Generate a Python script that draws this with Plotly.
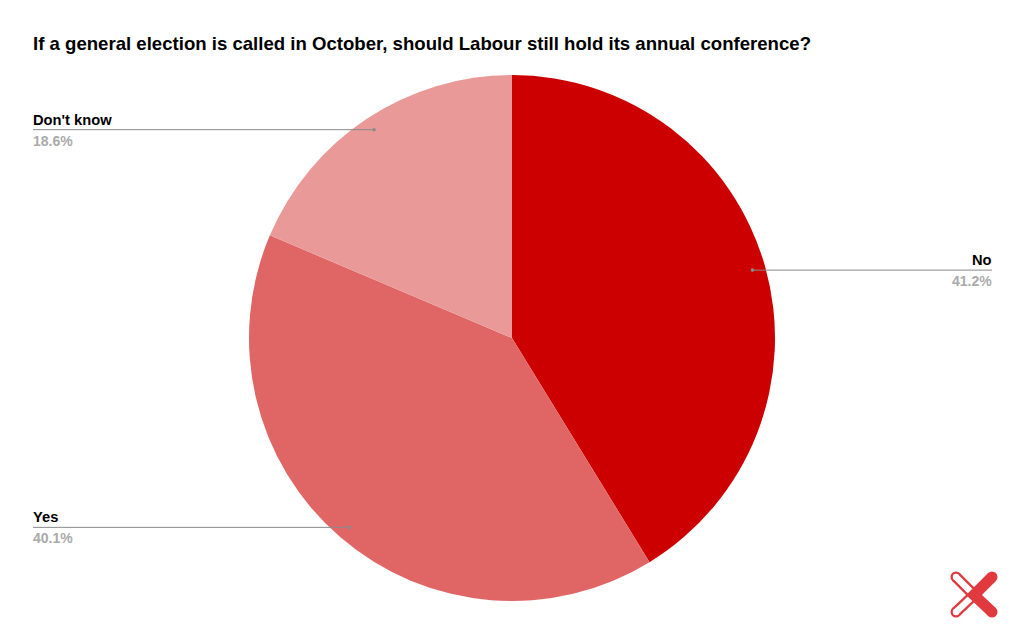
import math
import plotly.graph_objects as go

# Data
categories = ["No", "Yes", "Don't know"]
values = [41.2, 40.1, 18.6]
colors = ["#cc0000", "#e06666", "#ea9999"]
title_text = "If a general election is called in October, should Labour still hold its annual conference?"

W, H = 1024, 634
CX, CY, R = 512, 338, 263  # pie centre / radius in pixels
LEFT_X, RIGHT_X = 33, 992
FONT = "Liberation Sans, Arial"

def px(x):
    return x / W

def py(y):
    return 1 - y / H

fig = go.Figure(go.Pie(
    labels=categories,
    values=values,
    sort=False,
    direction="clockwise",
    rotation=0,
    marker=dict(colors=colors, line=dict(width=0)),
    textinfo="none",
    hoverinfo="label+percent",
    domain=dict(x=[px(CX - R), px(CX + R)], y=[py(CY + R), py(CY - R)]),
))

shapes = []
annotations = []
total = sum(values)
cum = 0.0
for cat, v in zip(categories, values):
    mid = (cum + v / 2) / total * 2 * math.pi
    cum += v
    ex = CX + 0.95 * R * math.sin(mid)
    ey = CY - 0.95 * R * math.cos(mid)
    right = math.sin(mid) > 0
    lx = RIGHT_X if right else LEFT_X
    shapes.append(dict(type="line", xref="paper", yref="paper",
                       x0=px(ex), y0=py(ey), x1=px(lx), y1=py(ey),
                       line=dict(color="#8a8a8a", width=1)))
    shapes.append(dict(type="circle", xref="paper", yref="paper",
                       x0=px(ex - 1.8), x1=px(ex + 1.8), y0=py(ey - 1.8), y1=py(ey + 1.8),
                       fillcolor="#8a8a8a", line=dict(width=0)))
    anchor = "right" if right else "left"
    shift = 2 if right else -2
    annotations.append(dict(xref="paper", yref="paper", x=px(lx), y=py(ey - 10),
                            text="<b>%s</b>" % cat, showarrow=False,
                            xanchor=anchor, yanchor="middle", xshift=shift,
                            font=dict(family=FONT, size=14.7, color="#000000")))
    annotations.append(dict(xref="paper", yref="paper", x=px(lx), y=py(ey + 11),
                            text="<b>%.1f%%</b>" % (v / total * 100), showarrow=False,
                            xanchor=anchor, yanchor="middle", xshift=shift,
                            font=dict(family=FONT, size=14, color="#aaaaaa")))

# Logo (decorative)
red = "#e0393e"

def seg_path(pts):
    return "M " + " L ".join("%f,%f" % (px(x), py(y)) for x, y in pts)

def dot(x, y, r, color):
    return dict(type="circle", xref="paper", yref="paper",
                x0=px(x - r), x1=px(x + r), y0=py(y - r), y1=py(y + r),
                fillcolor=color, line=dict(width=0))

outl = [(956, 577), (974, 595), (956, 612)]
solid = [(992, 577), (974, 595), (992, 612)]
shapes.append(dict(type="path", xref="paper", yref="paper", path=seg_path(outl),
                   line=dict(color=red, width=11)))
shapes.append(dot(*outl[0], 5.5, red))
shapes.append(dot(*outl[2], 5.5, red))
shapes.append(dict(type="path", xref="paper", yref="paper", path=seg_path(outl),
                   line=dict(color="white", width=6.5)))
shapes.append(dot(*outl[0], 3.2, "white"))
shapes.append(dot(*outl[2], 3.2, "white"))
shapes.append(dict(type="path", xref="paper", yref="paper", path=seg_path(solid),
                   line=dict(color=red, width=11)))
shapes.append(dot(*solid[0], 5.5, red))
shapes.append(dot(*solid[2], 5.5, red))

annotations.append(dict(xref="paper", yref="paper", x=px(33), y=py(43),
                        text="<b>%s</b>" % title_text, showarrow=False,
                        xanchor="left", yanchor="middle", xshift=-2,
                        font=dict(family=FONT, size=18.6, color="#000000")))

fig.update_layout(
    width=W, height=H,
    margin=dict(l=0, r=0, t=0, b=0),
    paper_bgcolor="white", plot_bgcolor="white",
    showlegend=False,
    shapes=shapes,
    annotations=annotations,
)

fig.write_html("out.html", config={"displayModeBar": False},
               post_script="document.body.style.margin='0';")
